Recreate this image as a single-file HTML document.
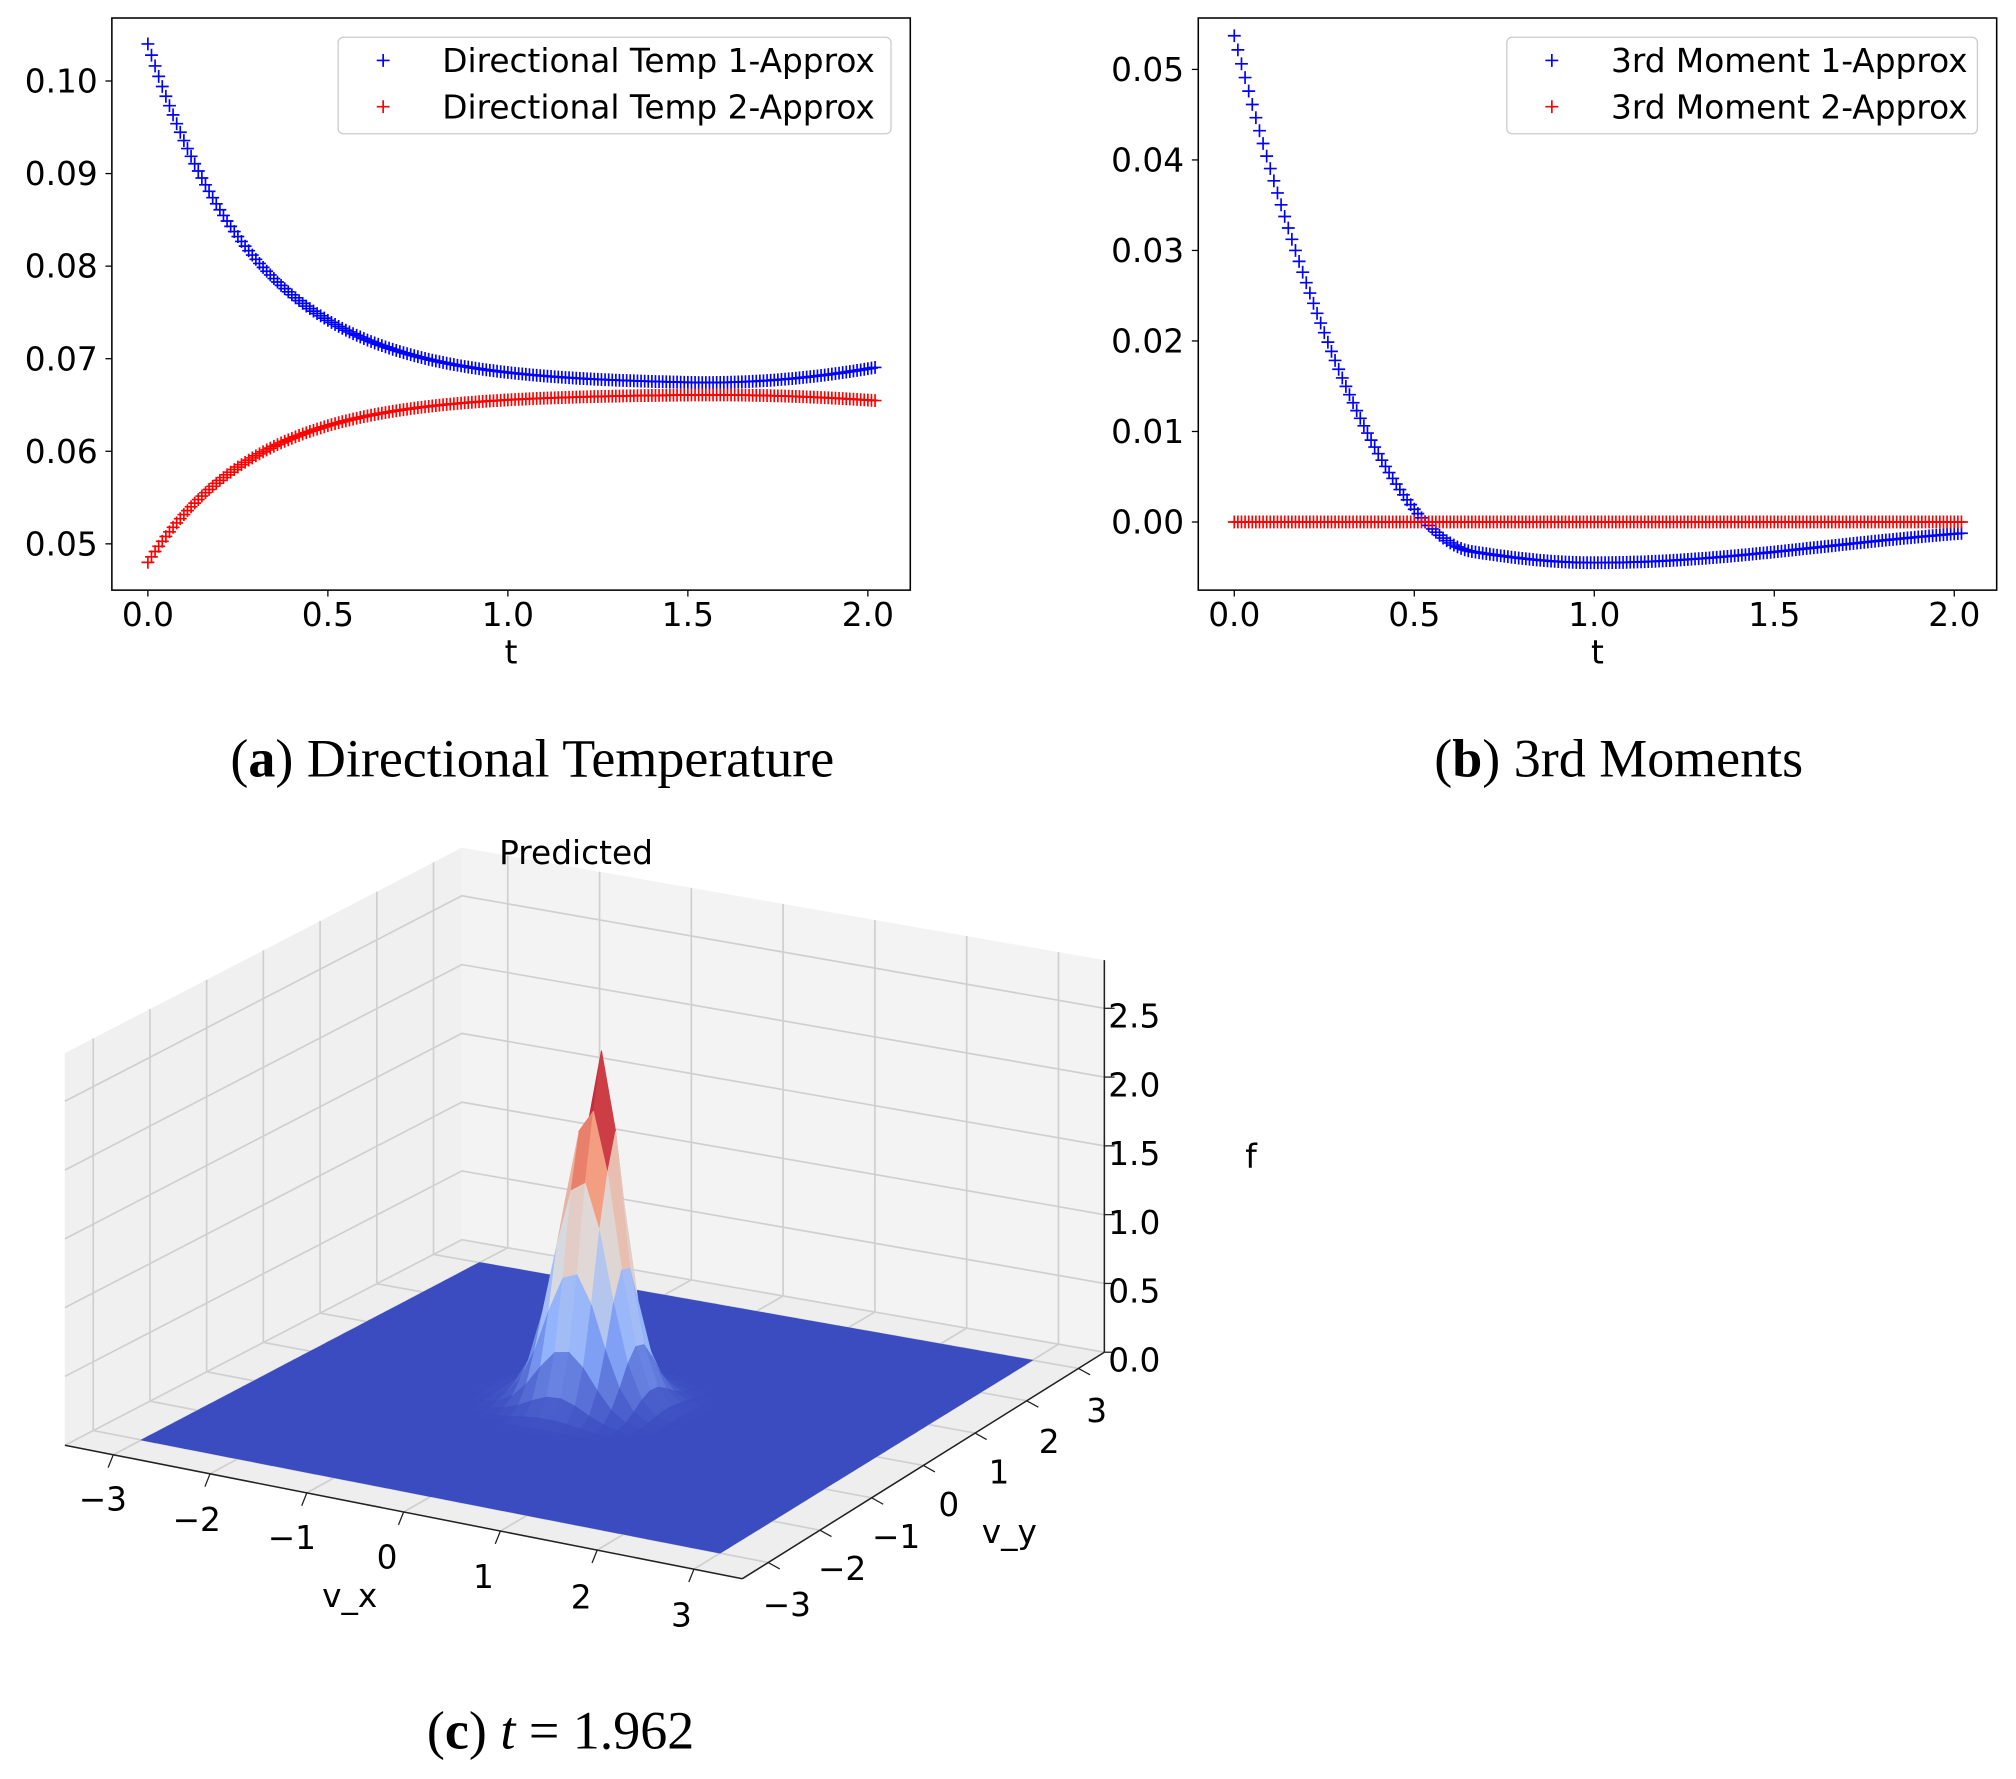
<!DOCTYPE html>
<html><head><meta charset="utf-8"><style>
html,body{margin:0;padding:0;background:#fff;}
svg{display:block;}
text{font-family:"DejaVu Sans","Liberation Sans",sans-serif;}
.cap{font-family:"Liberation Serif",serif;font-size:42px;}
</style></head><body>
<svg id="s" width="2016" height="1779" viewBox="0 0 1568 1383.7" xmlns="http://www.w3.org/2000/svg">
<rect width="1568" height="1384" fill="#fff"/>
<g id="g3d"></g>
<g id="ga"></g>
<g id="gb"></g>
<text class="cap" x="414" y="604" text-anchor="middle">(<tspan font-weight="bold">a</tspan>) Directional Temperature</text>
<text class="cap" x="1259" y="604" text-anchor="middle">(<tspan font-weight="bold">b</tspan>) 3rd Moments</text>
<text class="cap" x="436" y="1360" text-anchor="middle">(<tspan font-weight="bold">c</tspan>) <tspan font-style="italic">t</tspan> = 1.962</text>
</svg>
<script>
var NS="http://www.w3.org/2000/svg";
function el(p,t,a,txt){var e=document.createElementNS(NS,t);for(var k in a)e.setAttribute(k,a[k]);if(txt!==undefined)e.textContent=txt;p.appendChild(e);return e;}
function plus(g,x,y,c){el(g,"path",{d:"M"+(x-5)+" "+y+"h10M"+x+" "+(y-5)+"v10",stroke:c,"stroke-width":1.3,fill:"none"});}
var FS=25.5;
function panel(g,x0,x1,y0,y1,xz,xs,yv,yf,yticks){
  el(g,"rect",{x:x0,y:y0,width:x1-x0,height:y1-y0,fill:"none",stroke:"#000","stroke-width":1.2});
  for(var i=0;i<=4;i++){var v=i*0.5,x=xz+v*xs;el(g,"line",{x1:x,x2:x,y1:y1,y2:y1+5,stroke:"#000"});
   el(g,"text",{x:x,y:y1+28,"font-size":FS,"text-anchor":"middle"},v.toFixed(1));}
  el(g,"text",{x:(x0+x1)/2,y:y1+57,"font-size":FS,"text-anchor":"middle"},"t");
  yticks.forEach(function(v){var y=yf(v);el(g,"line",{x1:x0-5,x2:x0,y1:y,y2:y,stroke:"#000"});
   el(g,"text",{x:x0-11,y:y+9,"font-size":FS,"text-anchor":"end"},v.toFixed(2));});
}
var ga=document.getElementById("ga");
var ya=function(v){return 423-(v-0.05)/0.01*72;};
panel(ga,87,708,14,459,115,280,null,ya,[0.05,0.06,0.07,0.08,0.09,0.10]);
for(var i=0;i<=202;i++){var t=i*0.01;
 var b=0.0672+0.0368*Math.exp(-t/0.3)+0.0067*Math.pow(Math.max(0,t-1.5),2);
 var r=0.0662-0.0182*Math.exp(-t/0.3)-0.0026*Math.pow(Math.max(0,t-1.5),2);
 plus(ga,115+t*280,ya(b),"#0000ff");plus(ga,115+t*280,ya(r),"#ff0000");}
el(ga,"rect",{x:263,y:29,width:430,height:75,rx:4,fill:"#fff","fill-opacity":0.8,stroke:"#ccc"});
plus(ga,298,47,"#0000ff");plus(ga,298,83,"#ff0000");
el(ga,"text",{x:344,y:56,"font-size":FS},"Directional Temp 1-Approx");
el(ga,"text",{x:344,y:92,"font-size":FS},"Directional Temp 2-Approx");
var gb=document.getElementById("gb");
var yb=function(v){return 406-v/0.01*70.4;};
panel(gb,932,1553,14,459,960,280,null,yb,[0,0.01,0.02,0.03,0.04,0.05]);
for(var i=0;i<=202;i++){var t=i*0.01;
 var a=0.054*Math.pow(Math.max(0,1-t/0.66),1.9);
 var w=t<1?0.6:0.9;var B=-0.0045*Math.exp(-Math.pow((t-1)/w,2));
 plus(gb,960+t*280,yb(a+B),"#0000ff");plus(gb,960+t*280,yb(0),"#ff0000");}
el(gb,"rect",{x:1172,y:29,width:366,height:75,rx:4,fill:"#fff","fill-opacity":0.8,stroke:"#ccc"});
plus(gb,1207,47,"#0000ff");plus(gb,1207,83,"#ff0000");
el(gb,"text",{x:1253,y:56,"font-size":FS},"3rd Moment 1-Approx");
el(gb,"text",{x:1253,y:92,"font-size":FS},"3rd Moment 2-Approx");
// 3D
var g=document.getElementById("g3d");
var P00=[110,1120],P01=[373,982],P11=[803,1058],P10=[560,1208];
function fl(vx,vy){var u=(vx+3)/6,v=(vy+3)/6;
 return [(1-u)*(1-v)*P00[0]+(1-u)*v*P01[0]+u*v*P11[0]+u*(1-v)*P10[0],
         (1-u)*(1-v)*P00[1]+(1-u)*v*P01[1]+u*v*P11[1]+u*(1-v)*P10[1]];}
var ZS=107,E=3.5,ZT=2.85;
function pr(vx,vy,z){var p=fl(vx,vy);return [p[0],p[1]-z*ZS];}
function poly(pts,a){return el(g,"polygon",Object.assign({points:pts.map(function(p){return p[0].toFixed(1)+","+p[1].toFixed(1);}).join(" ")},a));}
var L=pr(-E,-E,0),Bk=pr(-E,E,0),R=pr(E,E,0),F=pr(E,-E,0);
function up(p,z){return [p[0],p[1]-z*ZS];}
poly([L,Bk,up(Bk,ZT),up(L,ZT)],{fill:"#f0f0f0"});
poly([Bk,R,up(R,ZT),up(Bk,ZT)],{fill:"#f3f3f3"});
poly([L,Bk,R,F],{fill:"#eeeeee"});
var gs={stroke:"#cfcfcf","stroke-width":1.3};
for(var k=-3;k<=3;k++){
 var a=pr(k,E,0),b=pr(k,E,ZT);el(g,"line",Object.assign({x1:a[0],y1:a[1],x2:b[0],y2:b[1]},gs));
 var c=pr(k,-E,0);el(g,"line",Object.assign({x1:a[0],y1:a[1],x2:c[0],y2:c[1]},gs));
 a=pr(-E,k,0);b=pr(-E,k,ZT);el(g,"line",Object.assign({x1:a[0],y1:a[1],x2:b[0],y2:b[1]},gs));
 c=pr(E,k,0);el(g,"line",Object.assign({x1:a[0],y1:a[1],x2:c[0],y2:c[1]},gs));}
for(var z=0;z<=2.51;z+=0.5){
 var a=pr(-E,-E,z),b=pr(-E,E,z),c=pr(E,E,z);
 el(g,"polyline",Object.assign({points:a.join(",")+" "+b.join(",")+" "+c.join(","),fill:"none"},gs));}
var ax={stroke:"#222","stroke-width":1.2};
el(g,"line",Object.assign({x1:L[0],y1:L[1],x2:F[0],y2:F[1]},ax));
el(g,"line",Object.assign({x1:F[0],y1:F[1],x2:R[0],y2:R[1]},ax));
el(g,"line",Object.assign({x1:R[0],y1:R[1],x2:R[0],y2:R[1]-ZT*ZS},ax));
var xl=[[80,1175],[153,1191],[227,1205],[301,1220],[376,1235],[452,1251],[530,1265]];
var yl=[[612,1257],[655,1229],[697,1204],[738,1179],[777,1154],[816,1130],[853,1106]];
var lab=["\u22123","\u22122","\u22121","0","1","2","3"];
for(var i=0;i<7;i++){var k=i-3;
 var a=pr(k,-E,0);el(g,"line",{x1:a[0],y1:a[1],x2:a[0]-4,y2:a[1]+10,stroke:"#222"});
 el(g,"text",{x:xl[i][0],y:xl[i][1],"font-size":FS,"text-anchor":"middle"},lab[i]);
 a=pr(E,k,0);el(g,"line",{x1:a[0],y1:a[1],x2:a[0]+9,y2:a[1]+5,stroke:"#222"});
 el(g,"text",{x:yl[i][0],y:yl[i][1],"font-size":FS,"text-anchor":"middle"},lab[i]);}
for(var i=0;i<=5;i++){var z=i*0.5,y=R[1]-z*ZS;el(g,"line",{x1:R[0],y1:y,x2:R[0]+8,y2:y,stroke:"#222"});
 el(g,"text",{x:R[0]+3,y:y+15,"font-size":FS},z.toFixed(1));}
el(g,"text",{x:973,y:908,"font-size":FS,"text-anchor":"middle"},"f");
el(g,"text",{x:272,y:1250,"font-size":FS,"text-anchor":"middle"},"v_x");
el(g,"text",{x:785,y:1200,"font-size":FS,"text-anchor":"middle"},"v_y");
el(g,"text",{x:448,y:672,"font-size":FS,"text-anchor":"middle"},"Predicted");
var cm=[[0,[59,76,192]],[0.25,[141,176,254]],[0.5,[221,221,221]],[0.75,[244,154,123]],[1,[180,4,38]]];
function col(v){v=Math.max(0,Math.min(1,v));for(var i=1;i<cm.length;i++)if(v<=cm[i][0]){var a=cm[i-1],b=cm[i],t=(v-a[0])/(b[0]-a[0]);
 return "rgb("+[0,1,2].map(function(j){return Math.round(a[1][j]+(b[1][j]-a[1][j])*t);}).join(",")+")";}return "rgb(180,4,38)";}
var N=40,h=6/N;
function f(x,y){var r2=(x+0.05)*(x+0.05)+(y-0.05)*(y-0.05);
 var v=2.1*Math.exp(-r2/(2*0.085));
 var r3=(x-0.05)*(x-0.05)+(y-0.2)*(y-0.2);v+=0.75*Math.exp(-r3/(2*0.01));
 return v;}
var cells=[];
for(var i=0;i<N;i++)for(var j=0;j<N;j++){var x=-3+i*h,y=-3+j*h;cells.push([x,y,(y+h/2)-(x+h/2)]);}
cells.sort(function(a,b){return b[2]-a[2];});
cells.forEach(function(c){var x=c[0],y=c[1];
 var z=[f(x,y),f(x+h,y),f(x+h,y+h),f(x,y+h)];var m=(z[0]+z[1]+z[2]+z[3])/4;
 var cl=col(m/2.3);
 poly([pr(x,y,z[0]),pr(x+h,y,z[1]),pr(x+h,y+h,z[2]),pr(x,y+h,z[3])],{fill:cl,stroke:cl,"stroke-width":0.6});});
</script>
</body></html>
